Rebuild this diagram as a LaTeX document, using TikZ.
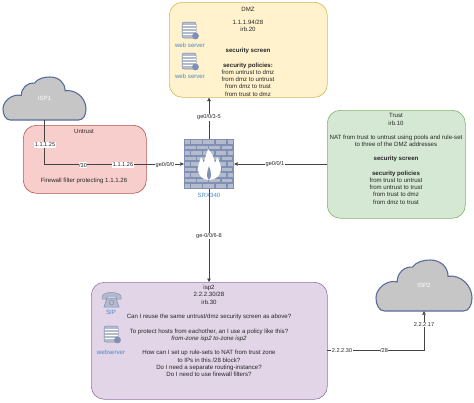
\documentclass[tikz,border=0pt]{standalone}
\usepackage{fontspec}
\setmainfont{Liberation Sans}
\usetikzlibrary{arrows.meta}
\definecolor{wire}{HTML}{444444}
\definecolor{iconblue}{HTML}{7F8FB5}
\definecolor{icongrey}{HTML}{B4BCCB}
\definecolor{labelblue}{HTML}{4A86C8}
\definecolor{cloudline}{HTML}{5A6C9C}
\definecolor{cloudfill}{HTML}{C6C6C6}
\definecolor{dmzf}{HTML}{FFF2CC}\definecolor{dmzd}{HTML}{D6B656}
\definecolor{unf}{HTML}{F8CECC}\definecolor{und}{HTML}{B85450}
\definecolor{trf}{HTML}{D5E8D4}\definecolor{trd}{HTML}{82B366}
\definecolor{ipf}{HTML}{E1D5E7}\definecolor{ipd}{HTML}{9673A6}
\newcommand{\serverat}[2]{%
  \begin{scope}[shift={(#1,#2)}]
    \fill[rounded corners=2pt,draw=iconblue,fill=icongrey,line width=.5pt] (0,0) rectangle (14,16);
    \foreach \yy in {3,6,9,12} \draw[white,line width=.7pt] (.5,\yy) -- (13.5,\yy);
    \fill[iconblue] (13.5,14) circle (3.4pt);
  \end{scope}}
\tikzset{
  x=1pt,y=-1pt,
  zone/.style={draw=#1,rounded corners=13pt,line width=.6pt,inner sep=0pt,anchor=north west},
  body/.style={align=center,font=\fontsize{6.1}{7.25}\selectfont,text=black!85,inner sep=0pt},
  wirelabel/.style={fill=white,inner sep=.6pt,font=\fontsize{5.6}{6.5}\selectfont,text=black!85},
  iconlabel/.style={font=\fontsize{6.1}{7}\selectfont,text=labelblue,inner sep=0pt},
  link/.style={draw=wire,line width=.6pt},
  head/.style={-{Triangle[length=3.5pt,width=3.5pt]}},
  cloudbox/.style={minimum width=#1,inner sep=0pt,text=white,font=\fontsize{6.1}{7}\selectfont},
  cloudedge/.style={draw=cloudline,fill=cloudfill,line width=1.1pt}
}
\begin{document}
\begin{tikzpicture}
\useasboundingbox (0,0) rectangle (474,402);
% zones
\node[zone=dmzd,fill=dmzf,minimum width=158pt,minimum height=95pt] (dmz) at (169,2) {};
\node[zone=und,fill=unf,minimum width=123pt,minimum height=68pt] (untrust) at (23,125) {};
\node[zone=trd,fill=trf,minimum width=138pt,minimum height=108pt] (trust) at (327,110) {};
\node[zone=ipd,fill=ipf,minimum width=236pt,minimum height=117pt] (isp2) at (91,282) {};
% firewall
\node[minimum width=50pt,minimum height=50pt,inner sep=0pt,fill=iconblue] (srx) at (209,164) {};
\begin{scope}[shift={(184,139)}]
  \foreach \r in {0,...,8}{
    \pgfmathsetmacro{\yy}{\r*5.55+1}
    \pgfmathsetmacro{\off}{mod(\r,2)*6}
    \foreach \c in {0,1,2,3,4}{
      \pgfmathsetmacro{\xa}{max(1,\c*12.2+\off-5)}
      \pgfmathsetmacro{\xb}{min(49,\c*12.2+\off+5.6)}
      \ifdim\xa pt<\xb pt
        \fill[icongrey] (\xa,\yy) rectangle (\xb,\yy+3.6);
      \fi
    }
  }
  \fill[white] (25,41) .. controls (18,41) and (14,36) .. (14,30)
     .. controls (14,25) and (16,22) .. (17,18)
     .. controls (18,20) and (19,22) .. (20,24)
     .. controls (21,18) and (23,14) .. (24,10)
     .. controls (28,14) and (30,19) .. (31,24)
     .. controls (32,22) and (33,20) .. (33,18)
     .. controls (35,22) and (37,25) .. (37,30)
     .. controls (37,36) and (32,41) .. (25,41) -- cycle;
  \fill[iconblue] (25,41) .. controls (22.5,38) and (22.5,35) .. (23.5,32)
     .. controls (24,30) and (24.6,29) .. (25,27)
     .. controls (25.4,29) and (26,30) .. (26.5,32)
     .. controls (27.5,35) and (27.5,38) .. (25,41) -- cycle;
\end{scope}
\node[iconlabel] (srxlabel) at (209,195) {SRX340};
% clouds
\begin{scope}[shift={(3,120)},x=83pt,y=43pt]
\path[cloudedge] (.09,0) .. controls (.03,0) and (0,.12) .. (0,.26)
  .. controls (0,.45) and (.12,.62) .. (.22,.57)
  .. controls (.22,.75) and (.30,.88) .. (.38,.86)
  .. controls (.42,.97) and (.50,1) .. (.565,1)
  .. controls (.68,1) and (.75,.85) .. (.75,.68)
  .. controls (.88,.72) and (1,.5) .. (1,.26)
  .. controls (1,.12) and (.97,0) .. (.91,0) -- cycle;
\end{scope}
\begin{scope}[shift={(376,311)},x=96pt,y=51pt]
\path[cloudedge] (.09,0) .. controls (.03,0) and (0,.12) .. (0,.26)
  .. controls (0,.45) and (.12,.62) .. (.22,.57)
  .. controls (.22,.75) and (.30,.88) .. (.38,.86)
  .. controls (.42,.97) and (.50,1) .. (.565,1)
  .. controls (.68,1) and (.75,.85) .. (.75,.68)
  .. controls (.88,.72) and (1,.5) .. (1,.26)
  .. controls (1,.12) and (.97,0) .. (.91,0) -- cycle;
\end{scope}
\node[cloudbox=83pt,minimum height=43pt] (isp1) at (44.5,98.5) {ISP1};
\node[cloudbox=96pt,minimum height=51pt] (isp2c) at (424,285.5) {ISP2};
% connectors
\coordinate (isp2out) at (327,350);
\draw[link,head] (isp1.south) |- (srx.west);
\draw[link,head] (srx.north) -- (dmz.south -| srx.north);
\draw[link,head] (trust.west |- srx.east) -- (srx.east);
\draw[link,head] (srx.south) -- (isp2.north -| srx.south);
\draw[link,head] (isp2out) -| (isp2c.south);
% wire labels
\node[wirelabel] (l1) at (45,145) {1.1.1.25};
\node[wirelabel] (l2) at (83,165) {/30};
\node[wirelabel] (l3) at (123,165) {1.1.1.26};
\node[wirelabel] (l4) at (165,165) {ge0/0/0};
\node[wirelabel] (l5) at (209,117.5) {ge0/0/3-5};
\node[wirelabel] (l6) at (275,164.5) {ge0/0/1};
\node[wirelabel] (l7) at (209,236) {ge-0/0/6-8};
\node[wirelabel] (l8) at (342,350.5) {2.2.2.30};
\node[wirelabel] (l9) at (384,350.5) {/28};
\node[wirelabel] (l10) at (424,324.5) {2.2.2.17};
% zone texts
\node[body] (dmzt) at (248,9) {DMZ};
\node[body] (dmzb) at (248,26) {1.1.1.94/28\\irb.20};
\node[body,anchor=north] (dmzc) at (248,48) {\textbf{security screen}\\[7.25pt]\textbf{security policies:}\\from untrust to dmz\\from dmz to untrust\\from dmz to trust\\from trust to dmz};
\node[body] (unt) at (84,131) {Untrust};
\node[body] (unb) at (84,181) {Firewall filter protecting 1.1.1.26};
\node[body,anchor=north] (trt) at (396,113.5) {Trust\\irb.10\\[7.25pt]NAT from trust to untrust using pools and rule-set\\to three of the DMZ addresses\\[6.5pt]\textbf{security screen}\\[7.25pt]\textbf{security policies}\\from trust to untrust\\from untrust to trust\\from trust to dmz\\from dmz to trust};
\node[body,anchor=north] (ipt) at (209,285) {isp2\\2.2.2.30/28\\irb.30\\[7.25pt]Can I reuse the same untrust/dmz security screen as above?\\[7.25pt]To protect hosts from eachother, an I use a policy like this?\\\textit{from-zone isp2 to-zone isp2}\\[7.25pt]How can I set up rule-sets to NAT from trust zone\\to IPs in this /28 block?\\Do I need a separate routing-instance?\\Do I need to use firewall filters?};
% icons
\serverat{182}{22}
\node[iconlabel] (ws1) at (190,45) {web server};
\serverat{182}{53}
\node[iconlabel] (ws2) at (190,76) {web server};
\serverat{104}{326}
\node[iconlabel] (ws3) at (111,352) {webserver};
\node[iconlabel] (sip) at (111,312) {SIP};
\begin{scope}[shift={(102,292)}]
  \fill[icongrey,draw=iconblue,line width=.5pt] (0,5) .. controls (0,-1) and (19,-1) .. (19,5) -- (19,7) -- (14,7) -- (14,4) -- (5,4) -- (5,7) -- (0,7) -- cycle;
  \fill[icongrey,draw=iconblue,line width=.5pt] (5,6) -- (14,6) -- (17,15) -- (2,15) -- cycle;
  \draw[iconblue,line width=.5pt] (9.5,10.5) circle (2.5pt);
\end{scope}
\end{tikzpicture}
\end{document}
